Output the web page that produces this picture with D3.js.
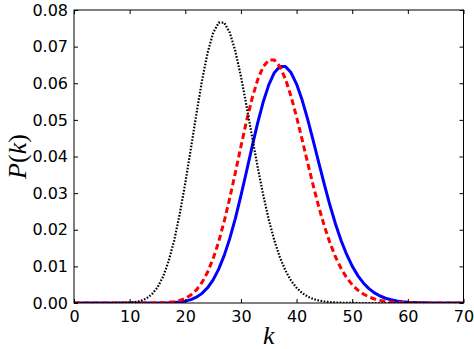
<!DOCTYPE html>
<html>
<head>
<meta charset="utf-8">
<script src="https://cdn.jsdelivr.net/npm/d3@7"></script>
<style>
  html, body { margin: 0; padding: 0; background: #fff; }
  svg { display: block; }
  .tick text { font-family: "DejaVu Sans", sans-serif; font-size: 16px; fill: #000; }
</style>
</head>
<body>
<script>
// k values 0..70
const kValues = d3.range(0, 71);

// Black dotted curve, P(k) at k = 0..70
const blackSeries = [
  0,0,0,0,0,0,0,0,0.00001,0.00004,
  0.00011,0.00026,0.00059,0.00122,0.00236,0.00425,0.00717,0.01138,0.01707,0.02426,
  0.03275,0.04211,0.05168,0.06067,0.06825,0.07371,0.07655,0.07655,0.07382,0.06873,
  0.06186,0.05388,0.04546,0.03719,0.02954,0.02279,0.01709,0.01247,0.00886,0.00613,
  0.00414,0.00273,0.00175,0.00110,0.00068,0.00041,0.00024,0.00014,0.00008,0.00004,
  0.00002,0,0,0,0,0,0,0,0,0,
  0,0,0,0,0,0,0,0,0,0,0
];

// Red dashed curve
const redSeries = [
  0,0,0,0,0,0,0,0,0,0,
  0,0,0,0,0.00002,0.00004,0.00009,0.00019,0.00037,0.00071,
  0.00128,0.00219,0.00358,0.00560,0.00840,0.01209,0.01674,0.02232,0.02869,0.03562,
  0.04274,0.04964,0.05584,0.06091,0.06450,0.06634,0.06634,0.06455,0.06115,0.05645,
  0.05080,0.04461,0.03823,0.03201,0.02619,0.02095,0.01640,0.01256,0.00942,0.00692,
  0.00498,0.00352,0.00244,0.00165,0.00110,0.00072,0.00046,0.00029,0.00018,0.00011,
  0.00007,0.00004,0.00002,0,0,0,0,0,0,0,0
];

// Blue solid curve
const blueSeries = [
  0,0,0,0,0,0,0,0,0,0,
  0,0,0,0,0,0.00001,0.00003,0.00006,0.00013,0.00027,
  0.00051,0.00092,0.00159,0.00263,0.00416,0.00632,0.00924,0.01300,0.01764,0.02312,
  0.02929,0.03590,0.04263,0.04909,0.05486,0.05956,0.06287,0.06457,0.06457,0.06291,
  0.05977,0.05540,0.05012,0.04429,0.03825,0.03230,0.02668,0.02157,0.01708,0.01325,
  0.01007,0.00750,0.00548,0.00393,0.00277,0.00191,0.00130,0.00087,0.00057,0.00037,
  0.00023,0.00015,0.00009,0.00005,0.00003,0.00002,0,0,0,0,0
];

const xTicks = [0, 10, 20, 30, 40, 50, 60, 70];
const yTicks = [0, 0.01, 0.02, 0.03, 0.04, 0.05, 0.06, 0.07, 0.08];

(function () {
const W = 474, H = 349;
const margin = { left: 74, right: 10.5, top: 10, bottom: 46 };

const svg = d3.select("body").append("svg").attr("width", W).attr("height", H);

const x = d3.scaleLinear().domain([0, 70]).range([margin.left, W - margin.right]);
const y = d3.scaleLinear().domain([0, 0.08]).range([H - margin.bottom, margin.top]);

svg.append("defs").append("clipPath").attr("id", "clip")
  .append("rect")
  .attr("x", x(0)).attr("y", y(0.08))
  .attr("width", x(70) - x(0)).attr("height", y(0) - y(0.08));

const line = d3.line().x((d, i) => x(kValues[i])).y(d => y(d));

const plot = svg.append("g").attr("clip-path", "url(#clip)");

plot.append("path").datum(blueSeries)
  .attr("d", line).attr("fill", "none")
  .attr("stroke", "#0000ff").attr("stroke-width", 3)
  .attr("stroke-linejoin", "round");

plot.append("path").datum(redSeries)
  .attr("d", line).attr("fill", "none")
  .attr("stroke", "#ff0000").attr("stroke-width", 3)
  .attr("stroke-dasharray", "6,3.5");

plot.append("path").datum(blackSeries)
  .attr("d", line).attr("fill", "none")
  .attr("stroke", "#000").attr("stroke-width", 2.2)
  .attr("stroke-dasharray", "1.6,1.6");

// Axes (inward ticks on all four sides)
const fmtY = d3.format(".2f");
const gBottom = svg.append("g").attr("transform", `translate(0,${y(0)})`)
  .call(d3.axisBottom(x).tickValues(xTicks).tickSizeInner(-4).tickSizeOuter(0).tickPadding(8).tickFormat(d3.format("d")));
const gLeft = svg.append("g").attr("transform", `translate(${x(0)},0)`)
  .call(d3.axisLeft(y).tickValues(yTicks).tickSizeInner(-4).tickSizeOuter(0).tickPadding(6).tickFormat(fmtY));
const gTop = svg.append("g").attr("transform", `translate(0,${y(0.08)})`)
  .call(d3.axisTop(x).tickValues(xTicks).tickSizeInner(-4).tickSizeOuter(0).tickFormat(""));
const gRight = svg.append("g").attr("transform", `translate(${x(70)},0)`)
  .call(d3.axisRight(y).tickValues(yTicks).tickSizeInner(-4).tickSizeOuter(0).tickFormat(""));

[gBottom, gLeft, gTop, gRight].forEach(g => {
  g.select(".domain").remove();
  g.selectAll(".tick line").attr("stroke", "#000").attr("stroke-width", 1);
});

// Frame
svg.append("rect")
  .attr("x", x(0)).attr("y", y(0.08))
  .attr("width", x(70) - x(0)).attr("height", y(0) - y(0.08))
  .attr("fill", "none").attr("stroke", "#000").attr("stroke-width", 1);

// Axis labels
svg.append("text")
  .attr("x", (x(0) + x(70)) / 2).attr("y", 344)
  .attr("text-anchor", "middle")
  .style("font-family", "'Liberation Serif', serif").style("font-style", "italic")
  .style("font-size", "26px")
  .text("k");

const yl = svg.append("text")
  .attr("transform", `translate(26,${(y(0) + y(0.08)) / 2}) rotate(-90)`)
  .attr("text-anchor", "middle")
  .style("font-family", "'Liberation Serif', serif")
  .style("font-size", "26px");
yl.append("tspan").style("font-style", "italic").text("P");
yl.append("tspan").text("(");
yl.append("tspan").style("font-style", "italic").text("k");
yl.append("tspan").text(")");
})();
</script>
</body>
</html>
